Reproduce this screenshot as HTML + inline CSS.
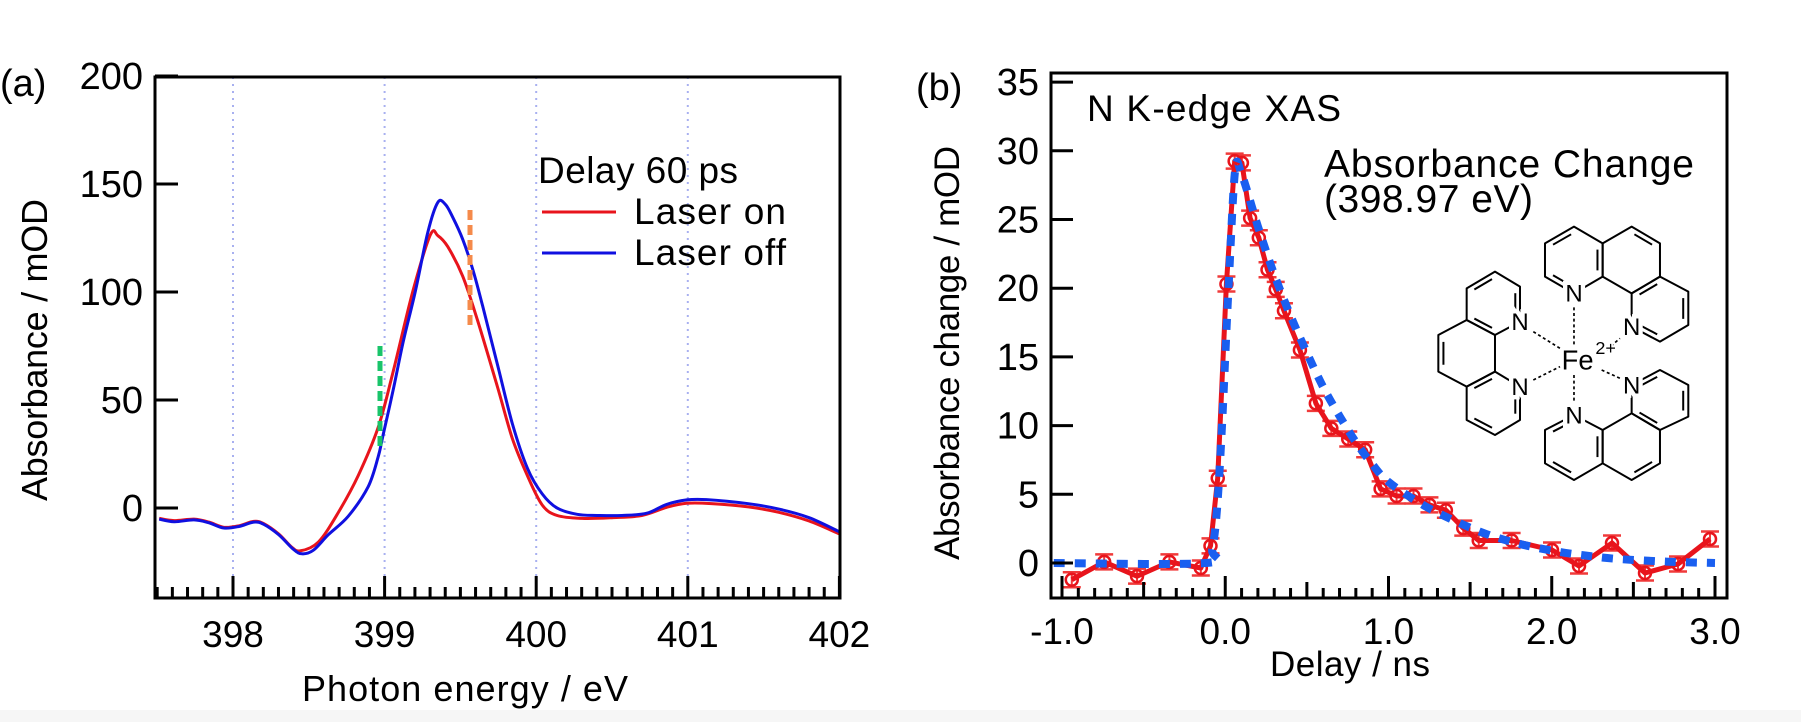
<!DOCTYPE html>
<html><head><meta charset="utf-8"><style>
html,body{margin:0;padding:0;background:#fff;}
svg{display:block;font-family:"Liberation Sans",Arial,sans-serif;}
</style></head><body>
<svg id="s" width="1801" height="722" viewBox="0 0 1801 722" xmlns="http://www.w3.org/2000/svg">
<rect x="0" y="0" width="1801" height="722" fill="#fff"/>
<rect x="0" y="710" width="1801" height="12" fill="#f6f6f6"/>
<g id="a"></g><g id="b"></g>
<g font-size="38" fill="#000">
<text x="0" y="96">(a)</text>
<text x="916" y="100">(b)</text>
<text x="538" y="183" font-size="37" textLength="200">Delay 60 ps</text>
<text x="634" y="224" font-size="37" textLength="152">Laser on</text>
<text x="634" y="265" font-size="37" textLength="152">Laser off</text>
<text x="465" y="701" text-anchor="middle" font-size="36" textLength="326">Photon energy / eV</text>
<text x="1350" y="676" text-anchor="middle" font-size="35" textLength="160">Delay / ns</text>
<text transform="translate(47,350) rotate(-90)" text-anchor="middle" font-size="36" textLength="302">Absorbance / mOD</text>
<text transform="translate(959,353) rotate(-90)" text-anchor="middle" font-size="35" textLength="414">Absorbance change / mOD</text>
<text x="1087" y="121" font-size="37" textLength="254">N K-edge XAS</text>
<text x="1324" y="177" font-size="39" textLength="370">Absorbance Change</text>
<text x="1324" y="212" font-size="39" textLength="209">(398.97 eV)</text>
</g>
<g id="mol" transform="translate(1420,220) scale(0.3333)"></g>
</svg>
<script>
var NS="http://www.w3.org/2000/svg";
function el(p,t,a,txt){var e=document.createElementNS(NS,t);for(var k in a)e.setAttribute(k,a[k]);if(txt!=null)e.textContent=txt;p.appendChild(e);return e;}
function cr(pts){var d="M"+pts[0][0].toFixed(1)+","+pts[0][1].toFixed(1);for(var i=0;i<pts.length-1;i++){var p0=pts[i-1]||pts[i],p1=pts[i],p2=pts[i+1],p3=pts[i+2]||p2;var c1=[p1[0]+(p2[0]-p0[0])/6,p1[1]+(p2[1]-p0[1])/6],c2=[p2[0]-(p3[0]-p1[0])/6,p2[1]-(p3[1]-p1[1])/6];d+="C"+c1[0].toFixed(1)+","+c1[1].toFixed(1)+" "+c2[0].toFixed(1)+","+c2[1].toFixed(1)+" "+p2[0].toFixed(1)+","+p2[1].toFixed(1);}return d;}
var ga=document.getElementById("a"),gb=document.getElementById("b");
var L=155,R=840,T=77,B=598;
function ex(e){return 233+(e-398)*151.6;} function my(m){return 508-m*2.16;}
[398,399,400,401].forEach(function(e){el(ga,"line",{x1:ex(e),x2:ex(e),y1:T,y2:B,stroke:"#a8b0f0","stroke-width":2,"stroke-dasharray":"2,5"});});
function za(p){return [p[0]/2.01,40+p[1]/2.709];}
function ed(p){return [ex(p[0]),my(p[1])];}
var blue=[[320,1298],[350,1305],[390,1300],[420,1308],[450,1322],[480,1318],[510,1306],[530,1312],[560,1340],[590,1380],[607,1392],[630,1382],[660,1340],[700,1290],[740,1210],[760,1130],[770,1070],[790,950],[810,820],[835,680],[860,520],[880,440],[895,445],[910,480],[930,540],[950,620],[970,720],[1000,880],[1030,1040],[1060,1160],[1090,1230],[1120,1268],[1160,1285],[1200,1288],[1250,1288],[1300,1282],[1340,1258],[1380,1246],[1420,1245]].map(za);
[[401.4,2],[401.6,-0.5],[401.8,-4.5],[402,-11]].forEach(function(p){blue.push(ed(p));});
var red=[[320,1296],[350,1302],[390,1298],[420,1306],[450,1320],[480,1316],[510,1304],[530,1310],[560,1338],[585,1372],[603,1384],[640,1360],[680,1280],[720,1180],[760,1050],[790,900],[830,680],[865,528],[880,530],[900,560],[930,640],[960,760],[1000,940],[1030,1080],[1060,1180],[1090,1260],[1120,1288],[1170,1296],[1230,1294],[1290,1288],[1340,1266],[1380,1255],[1430,1256]].map(za);
[[401.4,0.5],[401.6,-2],[401.8,-6],[402,-12]].forEach(function(p){red.push(ed(p));});
el(ga,"path",{d:cr(red),fill:"none",stroke:"#e8141c","stroke-width":3});
el(ga,"path",{d:cr(blue),fill:"none",stroke:"#1010e0","stroke-width":3});
el(ga,"line",{x1:380,x2:380,y1:346,y2:446,stroke:"#19c46a","stroke-width":5,"stroke-dasharray":"10,5"});
el(ga,"line",{x1:470,x2:470,y1:210,y2:326,stroke:"#f58a4a","stroke-width":5,"stroke-dasharray":"10,5"});
el(ga,"line",{x1:542,x2:616,y1:212,y2:212,stroke:"#e8141c","stroke-width":3});
el(ga,"line",{x1:542,x2:616,y1:253,y2:253,stroke:"#1010e0","stroke-width":3});
el(ga,"rect",{x:L,y:T,width:R-L,height:B-T,fill:"none",stroke:"#000","stroke-width":3});
for(var i=0;i<=4;i++){var m=i*50,y=my(m);el(ga,"line",{x1:L,x2:L+23,y1:y,y2:y,stroke:"#000","stroke-width":3});el(ga,"text",{x:L-12,y:y+13,"text-anchor":"end","font-size":38},String(m));}
for(var k=0;k<=45;k++){var e=397.5+k*0.1;var x=ex(e);if(x<L+2||x>R)continue;var maj=Math.abs(e-Math.round(e))<0.01;el(ga,"line",{x1:x,x2:x,y1:B,y2:B-(maj?22:11),stroke:"#000","stroke-width":3});if(maj)el(ga,"text",{x:x,y:647,"text-anchor":"middle","font-size":37},String(Math.round(e)));}
var L2=1051,R2=1727,T2=73,B2=598;
function tx(t){return 1062+(t+1)*163.25;} function vy(v){return 563-v*13.74;}
function zb(p){return [790+p[0]/2.069,40+p[1]/2.807];}
var fit=[[-1.05,0],[-0.12,0],[-0.08,1],[-0.05,4],[-0.02,10],[0.02,20],[0.06,28.5],[0.1,28.3],[0.2,24.5],[0.3,21],[0.4,18],[0.5,15.3],[0.6,12.8],[0.7,10.7],[0.8,8.8],[0.9,7.2],[1.0,5.9],[1.2,4.3],[1.4,3.1],[1.6,2.1],[1.8,1.4],[2.0,0.9],[2.2,0.55],[2.4,0.3],[2.7,0.1],[3.0,0]];
var fp=fit.map(function(p){return [tx(p[0]),vy(p[1])];});
var rp=[[583,1515],[650,1465],[718,1505],[785,1465],[850,1482],[870,1420],[885,1230],[903,685],[920,340],[935,345],[952,500],[970,555],[988,645],[1005,700],[1022,760],[1055,870],[1088,1020],[1120,1090],[1155,1120],[1190,1150],[1222,1260],[1255,1280],[1290,1280],[1323,1305],[1357,1320],[1393,1370],[1425,1405],[1493,1405]].map(zb);
rp.push([1552,550],[1579,566],[1612,543],[1645,573],[1678,564],[1710,539]);
var eb=7.5;
rp.forEach(function(p){el(gb,"line",{x1:p[0],x2:p[0],y1:p[1]-eb,y2:p[1]+eb,stroke:"#f03a3a","stroke-width":2});el(gb,"line",{x1:p[0]-9,x2:p[0]+9,y1:p[1]-eb,y2:p[1]-eb,stroke:"#f03a3a","stroke-width":2.5});el(gb,"line",{x1:p[0]-9,x2:p[0]+9,y1:p[1]+eb,y2:p[1]+eb,stroke:"#f03a3a","stroke-width":2.5});});
el(gb,"polyline",{points:rp.map(function(p){return p[0].toFixed(1)+","+p[1].toFixed(1);}).join(" "),fill:"none",stroke:"#e8141c","stroke-width":5,"stroke-linejoin":"round"});
rp.forEach(function(p){el(gb,"circle",{cx:p[0],cy:p[1],r:6,fill:"none",stroke:"#e8141c","stroke-width":2.5});});
el(gb,"path",{d:cr(fp),fill:"none",stroke:"#1a5ff0","stroke-width":8,"stroke-dasharray":"11,10"});
el(gb,"rect",{x:L2,y:T2,width:R2-L2,height:B2-T2,fill:"none",stroke:"#000","stroke-width":3});
for(var v=0;v<=35;v+=5){var y=vy(v);el(gb,"line",{x1:L2,x2:L2+22,y1:y,y2:y,stroke:"#000","stroke-width":3});el(gb,"text",{x:1039,y:y+13,"text-anchor":"end","font-size":38},String(v));}
for(var k=0;k<=40;k++){var t=-1+k*0.1,x=tx(t);var h=(k%10==0)?22:(k%5==0?16:10);el(gb,"line",{x1:x,x2:x,y1:B2,y2:B2-h,stroke:"#000","stroke-width":3});if(k%10==0)el(gb,"text",{x:x,y:644,"text-anchor":"middle","font-size":37},(t).toFixed(1));}
var mg=document.getElementById("mol");
function ring(pts,dbl){var d="M"+pts.map(function(p){return p.join(",");}).join("L")+"Z";el(mg,"path",{d:d,fill:"none",stroke:"#000","stroke-width":6,"stroke-linejoin":"round"});var cx=0,cy=0;pts.forEach(function(p){cx+=p[0];cy+=p[1];});cx/=6;cy/=6;(dbl||[]).forEach(function(i){var a=pts[i],b=pts[(i+1)%6];function sh(p){return [p[0]+(cx-p[0])*0.18,p[1]+(cy-p[1])*0.18];}var a2=sh(a),b2=sh(b);var ax=a2[0]+(b2[0]-a2[0])*0.12,ay=a2[1]+(b2[1]-a2[1])*0.12,bx=b2[0]-(b2[0]-a2[0])*0.12,by=b2[1]-(b2[1]-a2[1])*0.12;el(mg,"line",{x1:ax,y1:ay,x2:bx,y2:by,stroke:"#000","stroke-width":6});});}
ring([[140,205],[225,155],[300,200],[300,305],[225,345],[140,300]],[0,2,4]);
ring([[140,300],[225,345],[225,455],[140,500],[55,455],[55,345]],[4]);
ring([[225,455],[300,500],[300,600],[225,645],[140,600],[140,500]],[1,3,5]);
ring([[375,70],[462,20],[548,70],[548,170],[462,220],[375,170]],[0,2,4]);
ring([[548,70],[635,20],[720,70],[720,170],[635,220],[548,170]],[1]);
ring([[720,170],[805,215],[805,315],[720,365],[635,320],[635,220]],[1,3,5]);
ring([[462,585],[548,630],[548,730],[462,780],[375,730],[375,630]],[1,3,5]);
ring([[548,630],[635,580],[720,630],[720,730],[635,780],[548,730]],[3]);
ring([[635,495],[720,450],[805,495],[805,590],[720,630],[635,580]],[0,2,4]);
var dash={stroke:"#000","stroke-width":5,"stroke-dasharray":"9,8"};
[[340,335,420,385],[340,480,420,440],[462,262,462,380],[462,465,462,545],[560,390,600,355],[545,450,600,475]].forEach(function(l){var a=Object.assign({x1:l[0],y1:l[1],x2:l[2],y2:l[3]},dash);el(mg,"line",a);});
[[300,305],[300,500],[462,220],[635,320],[462,585],[635,495]].forEach(function(p){el(mg,"text",{x:p[0],y:p[1]+25,"text-anchor":"middle","font-size":72,fill:"#000",stroke:"#fff","stroke-width":26,"paint-order":"stroke"},"N");});
el(mg,"text",{x:425,y:448,"font-size":82,fill:"#000",stroke:"#fff","stroke-width":20,"paint-order":"stroke"},"Fe");
el(mg,"text",{x:526,y:402,"font-size":54,fill:"#000",stroke:"#fff","stroke-width":10,"paint-order":"stroke"},"2+");
</script>
</body></html>
